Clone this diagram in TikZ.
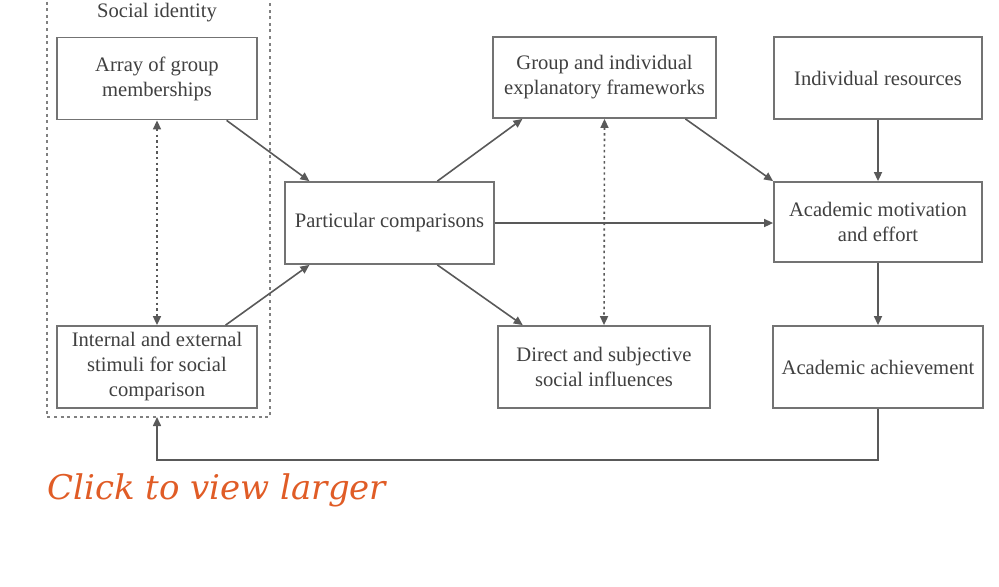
\documentclass[tikz,border=0pt]{standalone}
\usepackage{fontspec}
\setmainfont{Liberation Serif}
\newfontfamily\clickfont{DejaVu Serif}
\usetikzlibrary{arrows.meta,calc}

\definecolor{linkorange}{RGB}{224,92,38}

\tikzset{
  blk/.style={draw=black!55,line width=0.9pt,fill=white,text=black!75,align=center,
    inner sep=0pt,minimum height=41pt,font=\fontsize{10.3}{12.5}\selectfont},
  flow/.style={draw=black!65,line width=0.8pt,-{Triangle[length=4.5pt,width=4pt]}},
  assoc/.style={draw=black!65,line width=0.8pt,dash pattern=on 1.2pt off 1.6pt,
    {Triangle[length=4.5pt,width=4pt]}-{Triangle[length=4.5pt,width=4pt]}},
  frame/.style={draw=black!50,line width=0.7pt,dash pattern=on 1.5pt off 1.8pt}
}

\begin{document}
\begin{tikzpicture}[x=0.5pt,y=-0.5pt]
\useasboundingbox (0,0) rectangle (999,586);

% ---------------- SOCIAL IDENTITY FRAME ----------------
\draw[frame] (47,-5) -- (47,417) -- (270,417) -- (270,-5);
\coordinate (fb) at (157,417);
\node[text=black!75,font=\fontsize{10.3}{12.5}\selectfont] (sid) at (157,13) {Social identity};

\node[blk,minimum width=100pt] (arr) at (157,78.5) {Array of group\\memberships};
\node[blk,minimum width=100pt] (stim) at (157,367) {Internal and external\\stimuli for social\\comparison};

% ---------------- MIDDLE COLUMN ----------------
\node[blk,minimum width=104.5pt] (part) at (389.5,223) {Particular comparisons};
\node[blk,minimum width=111.5pt,minimum height=40.5pt] (grp) at (604.5,77.5) {Group and individual\\explanatory frameworks};
\node[blk,minimum width=106pt] (dir) at (604,367) {Direct and subjective\\social influences};

% ---------------- RIGHT COLUMN ----------------
\node[blk,minimum width=104pt] (res) at (878,78) {Individual resources};
\node[blk,minimum width=104pt,minimum height=40pt] (mot) at (878,222) {Academic motivation\\and effort};
\node[blk,minimum width=105pt] (ach) at (878,367) {Academic achievement};

% links
\draw[assoc] (arr.south) -- (stim.north);
\draw[assoc] (grp.south) -- (dir.north);

\draw[flow] ($(arr.south west)!0.845!(arr.south east)$) -- ($(part.north west)!0.12!(part.north east)$);
\draw[flow] ($(stim.north west)!0.84!(stim.north east)$) -- ($(part.south west)!0.12!(part.south east)$);
\draw[flow] ($(part.north west)!0.727!(part.north east)$) -- ($(grp.south west)!0.135!(grp.south east)$);
\draw[flow] ($(part.south west)!0.727!(part.south east)$) -- ($(dir.north west)!0.12!(dir.north east)$);
\draw[flow] ($(grp.south west)!0.86!(grp.south east)$) -- (mot.north west);
\draw[flow] (part.east) -- (mot.west |- part.east);
\draw[flow] (res.south) -- (mot.north);
\draw[flow] (mot.south) -- (ach.north);

% feedback loop
\draw[flow] (ach.south) -- ++(0,51) -| (fb);

\node[anchor=base west,inner sep=0pt,text=linkorange,font=\clickfont\itshape\fontsize{17}{19}\selectfont] (more) at (47,499) {Click to view larger};

\end{tikzpicture}
\end{document}
